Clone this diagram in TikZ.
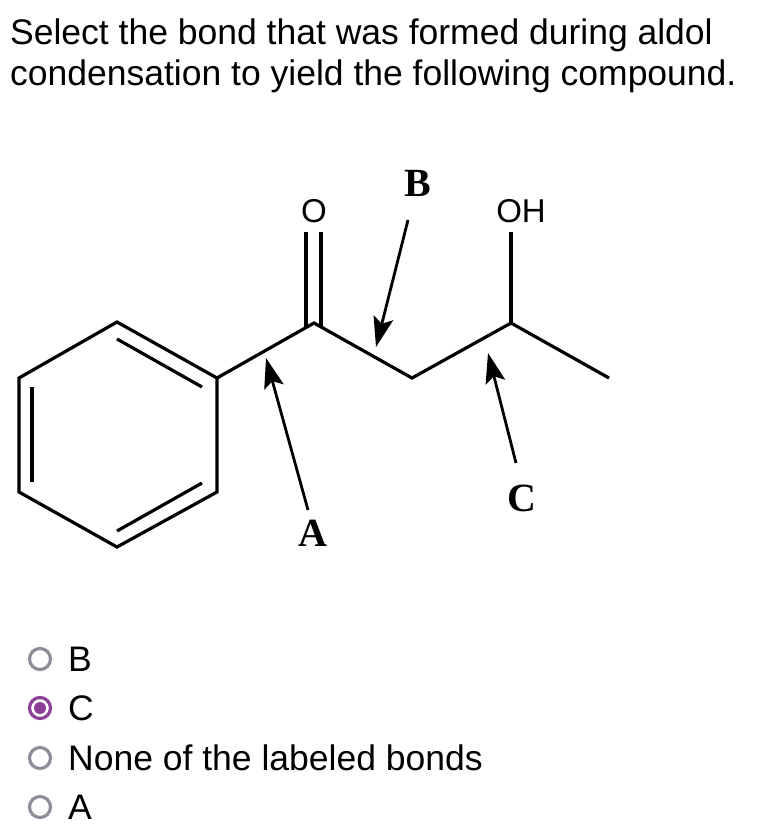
\documentclass[tikz,border=0pt]{standalone}
\usepackage{fontspec}
\usetikzlibrary{arrows.meta}
\setmainfont{Liberation Sans}
\newfontfamily\serifb{Liberation Serif}
\definecolor{rgray}{HTML}{8E8E99}
\definecolor{rviol}{HTML}{8B3F98}
\begin{document}
\begin{tikzpicture}[x=1pt,y=-1pt,
  bond/.style={line width=3.2pt},
  arr/.style={line width=2.8pt,-{Stealth[length=30pt,width=20pt,inset=6pt]}},
  lab/.style={font=\serifb\bfseries\fontsize{40}{42}\selectfont},
  atom/.style={font=\fontsize{33}{35}\selectfont},
  txt/.style={font=\fontsize{35.5}{40}\selectfont,anchor=base west,inner sep=0},
  radio/.style={circle,draw=rgray,line width=3.2pt,minimum size=21pt,inner sep=0}]
\useasboundingbox (0,0) rectangle (770,840);
\node[txt] (t1) at (10,45) {Select the bond that was formed during aldol};
\node[txt] (t2) at (10,86) {condensation to yield the following compound.};
% benzene
\coordinate (b1) at (117,322); \coordinate (b2) at (217,378);
\coordinate (b3) at (217,492); \coordinate (b4) at (117,547);
\coordinate (b5) at (19,492); \coordinate (b6) at (19,378);
\draw[bond,line join=miter] (b1)--(b2)--(b3)--(b4)--(b5)--(b6)--cycle;
\draw[bond] (117,339)--(202,387);
\draw[bond] (32,387)--(32,482);
\draw[bond] (117,531)--(202,483);
\coordinate (c1) at (314,323); \coordinate (c2) at (412,378);
\coordinate (c3) at (511,323); \coordinate (c4) at (609,378);
\draw[bond,line join=miter] (b2)--(c1)--(c2)--(c3)--(c4);
\draw[bond] (306,232)--(306,327);
\draw[bond] (321,232)--(321,327);
\draw[bond] (c3)--(511,232);
\node[atom] (o) at (314,211) {O};
\node[atom] (oh) at (521,211) {OH};
% arrows
\node[lab] (la) at (313,533) {A};
\node[lab] (lb) at (418,183) {B};
\node[lab] (lc) at (522,498) {C};
\coordinate (ta) at (266,358); \coordinate (tb) at (376,347); \coordinate (tc) at (488,353);
\draw[arr] (308,510)--(ta);
\draw[arr] (408,220)--(tb);
\draw[arr] (516,463)--(tc);
% options
\node[radio] (r1) at (40,659) {};
\node[radio,draw=rviol] (r2) at (40,708) {};
\fill[rviol] (r2) circle (6pt);
\node[radio] (r3) at (40,758) {};
\node[radio] (r4) at (40,807) {};
\node[txt] (o1) at (68,671) {B};
\node[txt] (o2) at (68,720) {C};
\node[txt] (o3) at (68,770) {None of the labeled bonds};
\node[txt] (o4) at (68,819) {A};
\end{tikzpicture}
\end{document}
